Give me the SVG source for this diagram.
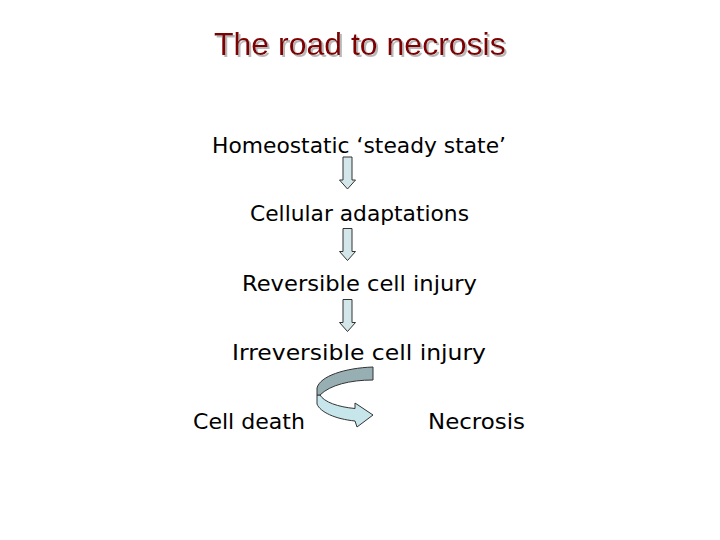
<svg xmlns="http://www.w3.org/2000/svg" width="720" height="540" viewBox="0 0 720 540">
<style>
.title{font-family:"Liberation Sans",Arial,sans-serif;font-size:32px;fill:#7f0000}
.lbl{font-family:"DejaVu Sans","Noto Sans",sans-serif;font-size:22px;fill:#000}
.arr{fill:#d3e7ea;stroke:#333;stroke-width:1}
.band{stroke:#333;stroke-width:1;stroke-linejoin:round}
</style>
<defs>
<filter id="sh" x="-5%" y="-20%" width="110%" height="140%">
<feDropShadow dx="2" dy="2" stdDeviation="0.3" flood-color="#b8b8b8" flood-opacity="1"/>
</filter>
<path id="down" d="M0,0 H9 V23 H12.5 L4.5,32 L-3.5,23 H0 Z"/>
</defs>
<rect width="720" height="540" fill="#fff"/>
<g id="title">
<text class="title" x="214" y="55" filter="url(#sh)">The road to necrosis</text>
</g>
<g id="n1"><text class="lbl" x="212" y="153" textLength="294" lengthAdjust="spacingAndGlyphs">Homeostatic ‘steady state’</text></g>
<g id="n2"><text class="lbl" x="250" y="221" textLength="219" lengthAdjust="spacingAndGlyphs">Cellular adaptations</text></g>
<g id="n3"><text class="lbl" x="242" y="291" textLength="235" lengthAdjust="spacingAndGlyphs">Reversible cell injury</text></g>
<g id="n4"><text class="lbl" x="232" y="360" textLength="254" lengthAdjust="spacingAndGlyphs">Irreversible cell injury</text></g>
<g id="n5"><text class="lbl" x="193" y="429" textLength="112" lengthAdjust="spacingAndGlyphs">Cell death</text></g>
<g id="n6"><text class="lbl" x="428" y="429" textLength="97" lengthAdjust="spacingAndGlyphs">Necrosis</text></g>
<g id="connectors">
<use href="#down" class="arr" x="343" y="157"/>
<use href="#down" class="arr" x="343" y="228.5"/>
<use href="#down" class="arr" x="343" y="299.5"/>
<g id="curved">
<path class="band" d="M317,395 L320,395 C324,402 338,407 355,408.5 L355,403 L373,415 L357,427 L355,421 C335,419 320,412 317,404 Z" fill="#c6e6ec"/>
<path class="band" d="M373,367 L373,380 C350,380 330,385 320,395 L317,395 L317,388 C320,376 345,368 373,367 Z" fill="#97afb3"/>
</g>
</g>
</svg>
